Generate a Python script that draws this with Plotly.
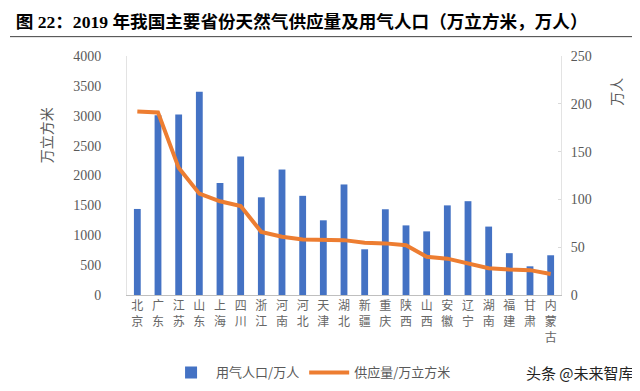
import plotly.graph_objects as go

provinces = ["北京", "广东", "江苏", "山东", "上海", "四川", "浙江", "河南", "河北", "天津",
             "湖北", "新疆", "重庆", "陕西", "山西", "安徽", "辽宁", "湖南", "福建", "甘肃", "内蒙古"]
gas_population = [1440, 3010, 3020, 3400, 1875, 2320, 1635, 2100, 1660, 1250,
                  1850, 765, 1435, 1165, 1065, 1500, 1570, 1145, 700, 480, 665]
gas_supply = [192, 191, 133, 106, 98, 93, 66, 61, 58, 57.7,
              57.4, 54.6, 54, 52, 40, 38, 33.4, 28, 26.6, 26, 22]
left_ticks = [0, 500, 1000, 1500, 2000, 2500, 3000, 3500, 4000]
right_ticks = [0, 50, 100, 150, 200, 250]

labels = ["<br>".join(list(p)) for p in provinces]

SERIF = "Liberation Serif, Times New Roman, serif"
CJK = "Noto Sans CJK SC, sans-serif"
GRAY = "#595959"

fig = go.Figure()
fig.add_trace(go.Bar(x=labels, y=gas_population, name="用气人口/万人",
                     marker=dict(color="#4472C4", line=dict(width=0)), yaxis="y"))
fig.add_trace(go.Scatter(x=labels, y=gas_supply, name="供应量/万立方米", mode="lines",
                         line=dict(color="#ED7D31", width=4), yaxis="y2"))

fig.update_layout(
    width=640, height=391,
    margin=dict(l=119, r=87, t=48, b=96),
    paper_bgcolor="white", plot_bgcolor="white",
    bargap=0.67,
    showlegend=True,
    legend=dict(orientation="h", x=0.09, xanchor="left", y=-0.324, yanchor="middle",
                font=dict(family=CJK, size=13, color=GRAY), itemwidth=40,
                traceorder="normal", bgcolor="rgba(0,0,0,0)"),
    xaxis=dict(type="category", range=[-0.5, len(provinces) - 0.5], tickangle=0,
               showline=True, linecolor="#BFBFBF", linewidth=1, ticks="",
               tickfont=dict(family=CJK, size=12, color="#666666"), showgrid=False),
    yaxis=dict(range=[0, 4000], tickvals=left_ticks, showgrid=False, zeroline=False,
               showline=True, linecolor="#E3E3E3", linewidth=1, ticks="",
               ticklabelstandoff=22,
               tickfont=dict(family=SERIF, size=14, color=GRAY)),
    yaxis2=dict(range=[0, 250], tickvals=right_ticks, overlaying="y", side="right",
                showgrid=False, zeroline=False, showline=True, linecolor="#E3E3E3",
                linewidth=1, ticks="inside", ticklen=3, tickcolor="#D9D9D9",
                ticklabelstandoff=6,
                tickfont=dict(family=SERIF, size=14, color=GRAY)),
    title=dict(text="<b>图\u00a022：2019\u00a0年我国主要省份天然气供应量及用气人口（万立方米，万人）</b>",
               x=0.012, xanchor="left", y=0.965, yanchor="middle",
               font=dict(family="Liberation Serif, Noto Sans CJK SC, serif", size=17.6, color="black")),
)

fig.add_shape(type="line", xref="paper", yref="paper",
              x0=(2 - 119) / 434, x1=(638 - 119) / 434, y0=(295 - 28) / 247, y1=(295 - 28) / 247,
              line=dict(color="#404040", width=1))

fig.add_annotation(text="万立方米", xref="paper", yref="paper",
                   x=(38 - 119) / 434, y=(295 - 130) / 247, showarrow=False, textangle=-90,
                   font=dict(family=CJK, size=14, color=GRAY), xanchor="center", yanchor="middle")
fig.add_annotation(text="万人", xref="paper", yref="paper",
                   x=(608 - 119) / 434, y=(295 - 85) / 247, showarrow=False, textangle=-90,
                   font=dict(family=CJK, size=14, color=GRAY), xanchor="center", yanchor="middle")
fig.add_annotation(text="头条 @未来智库", xref="paper", yref="paper",
                   x=(628 - 119) / 434, y=(295 - 375) / 247, showarrow=False,
                   font=dict(family=CJK, size=15, color="#222222"), xanchor="right", yanchor="middle")

fig.write_html("out.html")
